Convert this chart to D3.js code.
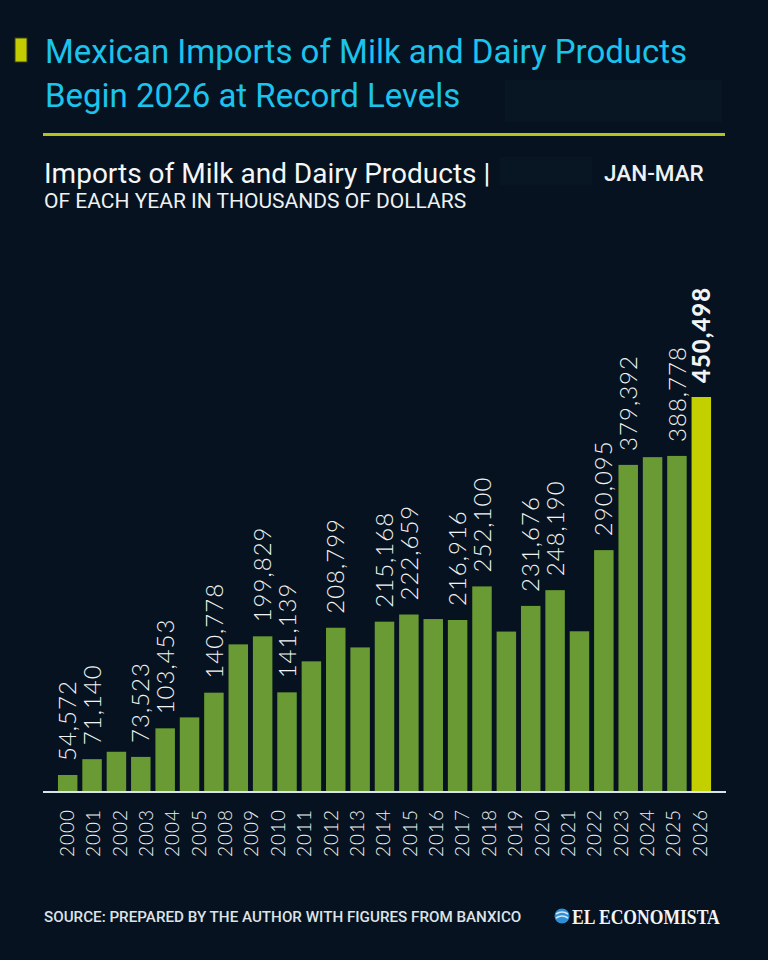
<html>
<head>
	<meta charset="utf-8">
	<title>milk imports</title>
	<script src="https://d3js.org/d3.v7.min.js"></script>
	<style type="text/css">
		body{ margin:0; background:#06121f; }
		.val{ font-family: Lato, "Open Sans", sans-serif; fill:#f2f4f4; }
		.yr{ font-family: Lato, "Open Sans", sans-serif; font-weight:300; fill:#eef1f2; }
	</style>
</head>
<body>
	<script type="text/javascript">

		var w = 768;
		var h = 960;

		// bars, one per year
		var years = ["2000","2001","2002","2003","2004","2005","2006","2007","2008","2009","2010","2011","2012","2013",
		             "2014","2015","2016","2017","2018","2019","2020","2021","2022","2023","2024","2025","2026"];
		var values = [54572, 71140, 78900, 73523, 103453, 114900, 140778, 191400, 199829, 141139, 173600, 208799, 188200, 215168,
		              222659, 217900, 216916, 252100, 204800, 231676, 248190, 205100, 290095, 379392, 387500, 388778, 450498];
		// which bars carry a value label in the original
		var showLabel = [1,1,0,1,1,0,1,0,1,1,0,1,0,1, 1,0,1,1,0,1,1,0,1,1,0,1,1];
		// the year labels printed under the axis
		var tickLabels = ["2000","2001","2002","2003","2004","2005","2008","2009","2010","2011","2012","2013","2014",
		                  "2015","2016","2017","2018","2019","2020","2021","2022","2023","2024","2025","2026"];

		var svg = d3.select("body").append("svg")
		      .attr("width",w)
		      .attr("height",h);

		svg.append("rect")
		   .attr("width",w).attr("height",h)
		   .attr("fill","#06121f");

		// faint boxes left over in the original artwork
		svg.append("rect").attr("x",505).attr("y",80).attr("width",217).attr("height",42).attr("fill","#081522");
		svg.append("rect").attr("x",500).attr("y",157).attr("width",92).attr("height",28).attr("fill","#081522");

		// title
		svg.append("rect")
		   .attr("x",15).attr("y",38).attr("width",12).attr("height",24)
		   .attr("fill","#c3cc00").attr("stroke","#3a4010").attr("stroke-width",1);
		var title = svg.append("text")
		   .attr("font-family","Roboto, sans-serif")
		   .attr("font-size","33px")
		   .attr("fill","#1cc3ec");
		title.append("tspan").attr("x",45).attr("y",63).text("Mexican Imports of Milk and Dairy Products");
		title.append("tspan").attr("x",45).attr("y",107).text("Begin 2026 at Record Levels");

		svg.append("line")
		   .attr("x1",43).attr("x2",725).attr("y1",134.5).attr("y2",134.5)
		   .attr("stroke","#b4c41c").attr("stroke-width",3);

		// subtitle
		svg.append("text")
		   .attr("x",44).attr("y",183)
		   .attr("font-family","Roboto, sans-serif")
		   .attr("font-size","28px")
		   .attr("fill","#f4f6f7")
		   .text("Imports of Milk and Dairy Products |");
		svg.append("text")
		   .attr("x",604).attr("y",181)
		   .attr("font-family","Roboto, sans-serif")
		   .attr("font-size","22.5px")
		   .attr("font-weight",500)
		   .attr("fill","#eef1f3")
		   .text("JAN-MAR");
		svg.append("text")
		   .attr("x",44).attr("y",208)
		   .attr("font-family","Roboto, sans-serif")
		   .attr("font-size","21px")
		   .attr("fill","#eef1f3")
		   .text("OF EACH YEAR IN THOUSANDS OF DOLLARS");

		//尺度
		var xScale = d3.scaleBand()
		    .domain(years)
		    .range([55.5,713.5])
		    .paddingInner(0.2)
		    .paddingOuter(0.1);
		var yScale = d3.scaleLinear()
		    .domain([36750, d3.max(values)])
		    .range([792, 397]);
		var labelScale = d3.scalePoint()
		    .domain(tickLabels)
		    .range([67, 700]);

		var data = years.map(function(y,i){ return {year:y, value:values[i], label:showLabel[i]}; });
		var last = years[years.length-1];

		svg.selectAll("rect.bar")
		   .data(data)
		   .enter()
		   .append("rect")
		   .attr("class","bar")
		   .attr("x",function(d){ return xScale(d.year); })
		   .attr("y",function(d){ return yScale(d.value); })
		   .attr("width",xScale.bandwidth())
		   .attr("height",function(d){ return 792 - yScale(d.value); })
		   .attr("fill",function(d){ return d.year === last ? "#c4cf00" : "#699a33"; });

		// baseline
		svg.append("line")
		   .attr("x1",43).attr("x2",726).attr("y1",792).attr("y2",792)
		   .attr("stroke","#d8e4ea").attr("stroke-width",2);

		// value labels
		svg.selectAll("text.val")
		   .data(data.filter(function(d){ return d.label; }))
		   .enter()
		   .append("text")
		   .attr("class","val")
		   .attr("transform",function(d){
		   	return "translate(" + (xScale(d.year) + xScale.bandwidth()/2) + "," + (yScale(d.value) - 14) + ") rotate(-90)";
		   })
		   .attr("dy","0.36em")
		   .attr("font-size","24px")
		   .attr("letter-spacing","1px")
		   .style("font-weight",function(d){ return d.year === last ? 900 : 300; })
		   .text(function(d){ return d3.format(",")(d.value); });

		// year labels
		svg.selectAll("text.yr")
		   .data(tickLabels)
		   .enter()
		   .append("text")
		   .attr("class","yr")
		   .attr("transform",function(d){ return "translate(" + labelScale(d) + ",809) rotate(-90)"; })
		   .attr("dy","0.36em")
		   .attr("text-anchor","end")
		   .attr("font-size","19px")
		   .attr("letter-spacing","1px")
		   .text(function(d){ return d; });

		// footer
		svg.append("text")
		   .attr("x",44).attr("y",922)
		   .attr("font-family","Roboto, sans-serif")
		   .attr("font-size","15.2px")
		   .attr("font-weight",500)
		   .attr("fill","#dde3e8")
		   .text("SOURCE: PREPARED BY THE AUTHOR WITH FIGURES FROM BANXICO");

		var logo = svg.append("g").attr("transform","translate(562,916)");
		logo.append("circle").attr("r",7.5).attr("fill","#2f8fd6");
		logo.append("path").attr("d","M-6,-2 Q0,-6 6,-2").attr("stroke","#cfe8fa").attr("stroke-width",1.6).attr("fill","none");
		logo.append("path").attr("d","M-6,2 Q0,-2 6,2").attr("stroke","#cfe8fa").attr("stroke-width",1.6).attr("fill","none");
		svg.append("text")
		   .attr("transform","translate(572,924) scale(0.88,1)")
		   .attr("font-family","Liberation Serif, serif")
		   .attr("font-size","20px")
		   .attr("font-weight",700)
		   .attr("fill","#f2f4f6")
		   .text("EL ECONOMISTA");
	</script>
</body>
</html>
